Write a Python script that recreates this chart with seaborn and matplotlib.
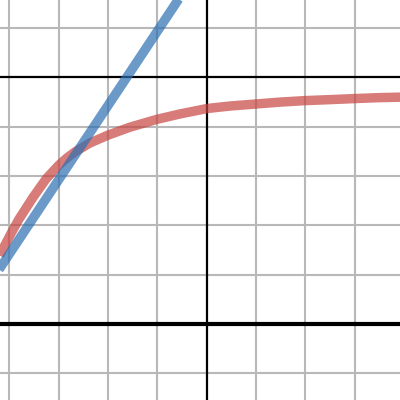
import numpy as np
import pandas as pd
import matplotlib
matplotlib.use("Agg")
import matplotlib.pyplot as plt
import seaborn as sns

# red curve (grid units)
red_x = [-4.20, -3.97, -3.81, -3.52, -3.25, -3.00, -2.83, -2.67, -2.37, -2.00, -1.56,
         -1.01, -0.54, 0.01, 0.47, 0.98, 1.49, 1.99, 2.50, 2.97, 3.48, 3.93]
red_y = [1.39, 1.83, 2.12, 2.57, 2.95, 3.22, 3.37, 3.49, 3.67, 3.83, 3.99,
         4.15, 4.26, 4.37, 4.42, 4.46, 4.50, 4.53, 4.55, 4.57, 4.59, 4.60]

# blue straight line
blue_x = [-4.3, -0.4]
blue_y = [0.97, 6.84]

grid_x = [-4, -3, -2, -1, 1, 2, 3]
grid_y = [-1, 1, 2, 3, 4, 6]

sns.set_style("white")
fig = plt.figure(figsize=(4, 4), dpi=100)
ax = fig.add_axes([0, 0, 1, 1])

for gx in grid_x:
    ax.axvline(gx, color="#b8b8b8", lw=1.5, zorder=0)
for gy in grid_y:
    ax.axhline(gy, color="#b8b8b8", lw=1.5, zorder=0)
ax.axvline(0, color="black", lw=1.6, zorder=1)
ax.axhline(5, color="black", lw=1.6, zorder=1)
ax.axhline(0, color="black", lw=3.0, zorder=1)

red = pd.DataFrame({"x": red_x, "y": red_y})
blue = pd.DataFrame({"x": blue_x, "y": blue_y})
sns.lineplot(data=red, x="x", y="y", sort=False, color="#c74440", alpha=0.7,
             lw=6.8, ax=ax, zorder=3, solid_capstyle="butt")
sns.lineplot(data=blue, x="x", y="y", sort=False, color="#2d70b3", alpha=0.7,
             lw=6.8, ax=ax, zorder=4, solid_capstyle="butt")

ax.set_xlim(-4.19, 3.92)
ax.set_ylim(-1.54, 6.57)
ax.set_xticks([])
ax.set_yticks([])
ax.set_xlabel("")
ax.set_ylabel("")
for s in ax.spines.values():
    s.set_visible(False)

fig.savefig("out.png", dpi=100)
